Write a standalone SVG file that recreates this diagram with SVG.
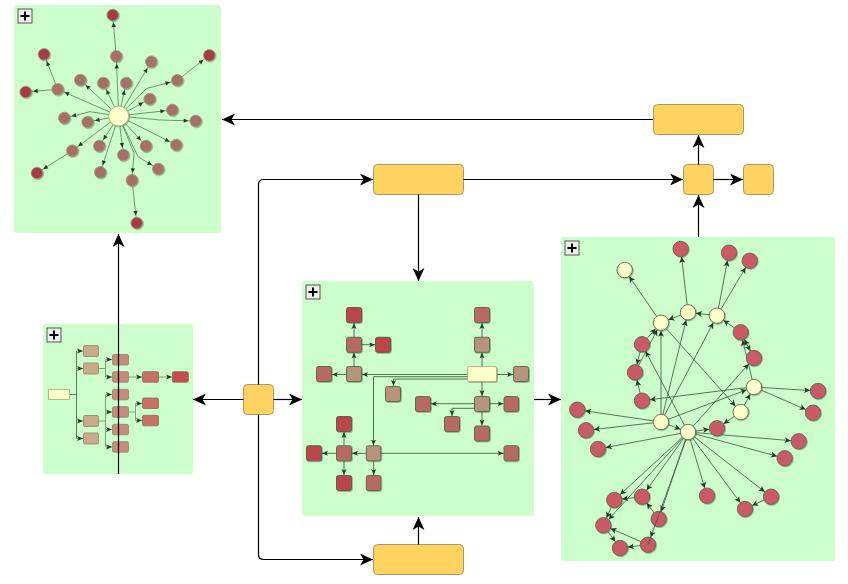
<svg xmlns="http://www.w3.org/2000/svg" width="848" height="584" viewBox="0 0 848 584">
<style>
.p{fill:#ccffcc}
.o{fill:#ffd35f;stroke:#a89868;stroke-width:1}
.b{fill:none;stroke:#000;stroke-width:1.2;marker-end:url(#big)}
.e{fill:none;stroke:#3f6b3f;stroke-width:.9}
#edges1{stroke:#5f8f62;stroke-width:.9}
#edges2{stroke:#6f9a70;stroke-width:.9}
#edges3{stroke:#4a754a;stroke-width:1}
#edges4,#connector-over{stroke:#3f5f40;stroke-width:.85}
.a1{marker-end:url(#m1)}
.a2{marker-end:url(#m2)}
.a4{marker-end:url(#m4)}
.y{fill:#ffffcc;stroke:#b0b078;stroke-width:.9}
.n1{fill:#a87065;stroke:#9a9a78;stroke-width:.8}
.d1{fill:#a83a42;stroke:#9a9a78;stroke-width:.8}
.t2{fill:#cca98b;stroke:#8f9068;stroke-width:.9}
.m2{fill:#c98a78;stroke:#8f9068;stroke-width:.9}
.r2{fill:#c96f66;stroke:#7d7d58;stroke-width:.9}
.x2{fill:#c84a4e;stroke:#7d7d58;stroke-width:.9}
.t3{fill:#b8937c;stroke:#5f6b4a;stroke-width:1}
.m3{fill:#b86a62;stroke:#5f6b4a;stroke-width:1}
.x3{fill:#bb4449;stroke:#5f5f48;stroke-width:1}
.r4{fill:#ca5a64;stroke:#66664f;stroke-width:.9}
.y4{fill:#ffffcc;stroke:#66664f;stroke-width:.9}
.btn{fill:#eeeeee;stroke:#555;stroke-width:1}
.pl{fill:none;stroke:#000;stroke-width:2}
#nodes1,#nodes3,#nodes4{filter:url(#sh)}
</style>
<defs>
<filter id="sh" x="-5%" y="-5%" width="110%" height="110%"><feDropShadow dx="0.8" dy="0.8" stdDeviation="0.4" flood-color="#334433" flood-opacity="0.45"/></filter>
<marker id="big" markerUnits="userSpaceOnUse" markerWidth="14" markerHeight="12" viewBox="0 0 14 12" refX="13" refY="6" orient="auto"><path d="M0 0L13 6L0 12L3.500 6Z" fill="#000"/></marker>
<marker id="m1" markerUnits="userSpaceOnUse" markerWidth="30" markerHeight="8" viewBox="0 0 30 8" refX="12" refY="4" orient="auto" overflow="visible"><path d="M0 1.800L4.500 4L0 6.200Z" fill="#1f3a1f"/></marker>
<marker id="m2" markerUnits="userSpaceOnUse" markerWidth="8" markerHeight="8" viewBox="0 0 8 8" refX="6" refY="4" orient="auto"><path d="M0 1.500L6 4L0 6.500L1.500 4Z" fill="#1f3a1f"/></marker>
<marker id="m4" markerUnits="userSpaceOnUse" markerWidth="30" markerHeight="8" viewBox="0 0 30 8" refX="14" refY="4" orient="auto" overflow="visible"><path d="M0 1L6 4L0 7L1.500 4Z" fill="#1f3a1f"/></marker>
</defs>

<g id="panel1"><rect class="p" x="14" y="5" width="207" height="228" rx="3"/></g>
<g id="panel2"><rect class="p" x="43" y="324" width="150" height="150" rx="3"/></g>
<g id="panel3"><rect class="p" x="302" y="281" width="232" height="235" rx="3"/></g>
<g id="panel4"><rect class="p" x="561" y="237" width="274" height="324" rx="3"/></g>
<g id="toggle1"><rect class="btn" x="18" y="9" width="14" height="14"/><path class="pl" d="M20.500 16H29.500M25 11.500V20.500"/></g>
<g id="toggle2"><rect class="btn" x="47" y="328" width="14" height="14"/><path class="pl" d="M49.500 335H58.500M54 330.500V339.500"/></g>
<g id="toggle3"><rect class="btn" x="306" y="285" width="14" height="14"/><path class="pl" d="M308.500 292H317.500M313 287.500V296.500"/></g>
<g id="toggle4"><rect class="btn" x="565" y="241" width="14" height="14"/><path class="pl" d="M567.500 248H576.500M572 243.500V252.500"/></g>

<g id="connectors-inner">
<g id="edges1" class="e">
<path class="a1" d="M118.700 116L116.300 56.300"/><path class="a1" d="M116.300 56.300L112.700 15"/><path class="a1" d="M118.700 116L151.300 61.700"/><path class="a1" d="M118.700 116L146.500 88.500L177.300 80.300"/><path class="a1" d="M177.300 80.300L209.300 55.300"/><path class="a1" d="M118.700 116L80.300 80"/><path class="a1" d="M118.700 116L103.300 83"/><path class="a1" d="M118.700 116L126.300 83"/><path class="a1" d="M118.700 116L57.700 89.300"/><path class="a1" d="M57.700 89.300L44 54.300"/><path class="a1" d="M57.700 89.300L25.700 92"/><path class="a1" d="M118.700 116L149.700 99"/><path class="a1" d="M118.700 116L172.300 110"/><path class="a1" d="M118.700 116L90 111.700L64.300 118"/><path class="a1" d="M118.700 116L87.700 122"/><path class="a1" d="M118.700 116L160 120L195.700 121"/><path class="a1" d="M118.700 116L176.300 145"/><path class="a1" d="M118.700 116L99.300 146"/><path class="a1" d="M118.700 116L146 146"/><path class="a1" d="M118.700 116L72.300 150.700"/><path class="a1" d="M72.300 150.700L37 173"/><path class="a1" d="M118.700 116L123.300 155"/><path class="a1" d="M118.700 116L138 156.700L158.300 169"/><path class="a1" d="M118.700 116L100.300 172.300"/><path class="a1" d="M118.700 116L134 153L132 180.300"/><path class="a1" d="M132 180.300L136.700 223"/>
</g>
<g id="edges2" class="e">
<path d="M69 394.500H76.500M76.500 351V438.500" stroke="#4a754a"/><path class="a2" d="M76.500 351H83"/><path class="a2" d="M76.500 368.500H83"/><path class="a2" d="M76.500 421H83"/><path class="a2" d="M76.500 438.500H83"/>
<path d="M99 368.500H105.500M105.500 360V377"/><path class="a2" d="M105.500 359.500H112"/><path class="a2" d="M105.500 377H112"/>
<path d="M99 421H105.500M105.500 394.500V447"/><path class="a2" d="M105.500 394.500H112"/><path class="a2" d="M105.500 412H112"/><path class="a2" d="M105.500 429.500H112"/><path class="a2" d="M105.500 447H112"/>
<path class="a2" d="M129 377H142"/><path class="a2" d="M159 377H172"/>
<path d="M129 412H135.500M135.500 403.500V420.500"/><path class="a2" d="M135.500 403.500H142"/><path class="a2" d="M135.500 420.500H142"/>
</g>
<g id="edges3" class="e">
<path class="a2" d="M354 337V323"/><path class="a2" d="M354 366.500V352.500"/><path class="a2" d="M362 344.700H375"/><path class="a2" d="M482 337V323"/><path class="a2" d="M482 366.500V352.500"/><path class="a2" d="M497 374.500H513"/><path class="a2" d="M346 374.500H332"/>
<path class="a2" d="M467 374.500H362"/><path class="a2" d="M467 376.700H373.500V445.500"/><path class="a2" d="M467 379H393.500V386"/>
<path class="a2" d="M482 381.500V396"/><path class="a2" d="M474 403.700H431"/><path class="a2" d="M474 408.300H452V416"/><path class="a2" d="M490 403.700H503.500"/><path class="a2" d="M482 412V425.500"/>
<path class="a2" d="M344 445.500V432"/><path class="a2" d="M336 453.300H322"/><path class="a2" d="M344 461V475"/><path class="a2" d="M366 453.300H352"/><path class="a2" d="M381 453.300H503.500"/><path class="a2" d="M373.700 461V475"/>
</g>
<g id="edges4" class="e">
<path class="a4" d="M661 322.700L624.700 270"/><path class="a4" d="M688 312.300L661 322.700"/><path class="a4" d="M717 315.700L688 312.300"/><path class="a4" d="M688 312.300L680.700 249"/><path class="a4" d="M717 315.700L729 252.700"/><path class="a4" d="M717 315.700L749.700 260.700"/><path class="a4" d="M740.700 332.300L717 315.700"/><path class="a4" d="M740.700 332.300L754 358"/><path class="a4" d="M754 358L740.700 332.300"/><path class="a4" d="M754 387L740.700 332.300"/>
<path class="a4" d="M642 344.300L661 322.700"/><path class="a4" d="M642 344.300L635 372.300"/><path class="a4" d="M635 372.300L661 322.700"/><path class="a4" d="M642 400.700L635 372.300"/><path class="a4" d="M688 432L642 344.300"/>
<path class="a4" d="M661 422L661 322.700"/><path class="a4" d="M661 422L688 312.300"/><path class="a4" d="M661 422L717 315.700"/><path class="a4" d="M661 322.700L740.700 412"/><path class="a4" d="M740.700 412L754 387"/><path class="a4" d="M754 387L735 389L642 400.700"/><path class="a4" d="M754 387L818 391"/><path class="a4" d="M754 387L813 412.700"/><path class="a4" d="M661 422L754 387"/><path class="a4" d="M688 432L754 358"/>
<path class="a4" d="M661 422L577.300 409.700"/><path class="a4" d="M661 422L586 430.300"/><path class="a4" d="M661 422L688 432"/><path class="a4" d="M688 432L717 428.300"/><path class="a4" d="M740.700 412L717 428.300"/><path class="a4" d="M688 432L798.700 441.300"/><path class="a4" d="M688 432L784.700 458.300"/><path class="a4" d="M688 432L598 449"/><path class="a4" d="M688 432L707 495.700"/><path class="a4" d="M688 432L745 509"/><path class="a4" d="M688 432L771 496.700"/><path class="a4" d="M688 432L642 496.700"/><path class="a4" d="M688 432L614.300 500"/><path class="a4" d="M688 432L603.300 525.300"/><path class="a4" d="M688 432L658.700 519"/>
<path class="a4" d="M771 496.700L745 509"/><path class="a4" d="M642 496.700L614.300 500"/><path class="a4" d="M658.700 519L642 496.700"/><path class="a4" d="M614.300 500L603.300 525.300"/><path class="a4" d="M603.300 525.300L620 548"/><path class="a4" d="M648 544.700L620 548"/><path class="a4" d="M648 544.700L603.300 525.300"/>
</g>
</g>

<g id="nodes1">
<g id="a0"><circle class="y" cx="118.700" cy="116" r="10"/></g>
<g id="a1"><circle class="d1" cx="112.700" cy="15" r="5.800"/></g><g id="a2"><circle class="n1" cx="116.300" cy="56.300" r="5.800"/></g><g id="a3"><circle class="d1" cx="44" cy="54.300" r="5.800"/></g><g id="a4"><circle class="n1" cx="151.300" cy="61.700" r="5.800"/></g><g id="a5"><circle class="d1" cx="209.300" cy="55.300" r="5.800"/></g><g id="a6"><circle class="n1" cx="177.300" cy="80.300" r="5.800"/></g><g id="a7"><circle class="n1" cx="80.300" cy="80" r="5.800"/></g><g id="a8"><circle class="n1" cx="103.300" cy="83" r="5.800"/></g><g id="a9"><circle class="n1" cx="126.300" cy="83" r="5.800"/></g><g id="a10"><circle class="n1" cx="57.700" cy="89.300" r="5.800"/></g><g id="a11"><circle class="d1" cx="25.700" cy="92" r="5.800"/></g><g id="a12"><circle class="n1" cx="149.700" cy="99" r="5.800"/></g><g id="a13"><circle class="n1" cx="172.300" cy="110" r="5.800"/></g><g id="a14"><circle class="n1" cx="64.300" cy="118" r="5.800"/></g><g id="a15"><circle class="n1" cx="87.700" cy="122" r="5.800"/></g><g id="a16"><circle class="n1" cx="195.700" cy="121" r="5.800"/></g><g id="a17"><circle class="n1" cx="176.300" cy="145" r="5.800"/></g><g id="a18"><circle class="n1" cx="99.300" cy="146" r="5.800"/></g><g id="a19"><circle class="n1" cx="146" cy="146" r="5.800"/></g><g id="a20"><circle class="n1" cx="72.300" cy="150.700" r="5.800"/></g><g id="a21"><circle class="n1" cx="123.300" cy="155" r="5.800"/></g><g id="a22"><circle class="n1" cx="158.300" cy="169" r="5.800"/></g><g id="a23"><circle class="d1" cx="37" cy="173" r="5.800"/></g><g id="a24"><circle class="n1" cx="100.300" cy="172.300" r="5.800"/></g><g id="a25"><circle class="n1" cx="132" cy="180.300" r="5.800"/></g><g id="a26"><circle class="d1" cx="136.700" cy="223" r="5.800"/></g>
</g>

<g id="nodes2">
<g id="b0"><rect class="y" x="48.500" y="389.500" width="21" height="10"/></g>
<g id="b1"><rect class="t2" x="83.500" y="345.500" width="15" height="11" rx="1.500"/></g><g id="b2"><rect class="t2" x="83.500" y="363" width="15" height="11" rx="1.500"/></g><g id="b3"><rect class="t2" x="83.500" y="415.500" width="15" height="11" rx="1.500"/></g><g id="b4"><rect class="t2" x="83.500" y="433" width="15" height="11" rx="1.500"/></g>
<g id="b5"><rect class="m2" x="112.500" y="354.500" width="16" height="10.500" rx="1.500"/></g><g id="b6"><rect class="m2" x="112.500" y="371.700" width="16" height="10.500" rx="1.500"/></g><g id="b7"><rect class="m2" x="112.500" y="389.300" width="16" height="10.500" rx="1.500"/></g><g id="b8"><rect class="m2" x="112.500" y="406.700" width="16" height="10.500" rx="1.500"/></g><g id="b9"><rect class="m2" x="112.500" y="424.300" width="16" height="10.500" rx="1.500"/></g><g id="b10"><rect class="m2" x="112.500" y="441.700" width="16" height="10.500" rx="1.500"/></g>
<g id="b11"><rect class="r2" x="142.500" y="371.700" width="16" height="10.500" rx="1.500"/></g><g id="b12"><rect class="r2" x="142.500" y="398" width="16" height="10.500" rx="1.500"/></g><g id="b13"><rect class="r2" x="142.500" y="415.300" width="16" height="10.500" rx="1.500"/></g><g id="b14"><rect class="x2" x="172.300" y="371.700" width="16" height="10.500" rx="1.500"/></g>
</g>

<g id="nodes3">
<g id="c0"><rect class="y" x="467.500" y="366.500" width="29" height="15" rx="1.500"/></g>
<g id="c1"><rect class="x3" x="346.500" y="307.500" width="15" height="15" rx="2"/></g><g id="c2"><rect class="m3" x="474.500" y="307.500" width="15" height="15" rx="2"/></g><g id="c3"><rect class="m3" x="346.500" y="337.300" width="15" height="15" rx="2"/></g><g id="c4"><rect class="x3" x="375.500" y="337.300" width="15" height="15" rx="2"/></g><g id="c5"><rect class="t3" x="474.500" y="337.300" width="15" height="15" rx="2"/></g><g id="c6"><rect class="m3" x="316.500" y="366.500" width="15" height="15" rx="2"/></g><g id="c7"><rect class="t3" x="346.500" y="366.500" width="15" height="15" rx="2"/></g><g id="c8"><rect class="t3" x="513.500" y="366.500" width="15" height="15" rx="2"/></g><g id="c9"><rect class="t3" x="385.500" y="386.500" width="15" height="15" rx="2"/></g><g id="c10"><rect class="m3" x="415.500" y="396.500" width="15" height="15" rx="2"/></g><g id="c11"><rect class="t3" x="474.500" y="396.500" width="15" height="15" rx="2"/></g><g id="c12"><rect class="m3" x="504" y="396.500" width="14.500" height="15" rx="2"/></g><g id="c13"><rect class="m3" x="444.500" y="416.500" width="15" height="15" rx="2"/></g><g id="c14"><rect class="m3" x="474.500" y="426" width="15" height="15" rx="2"/></g><g id="c15"><rect class="x3" x="336.500" y="416.500" width="15" height="15" rx="2"/></g><g id="c16"><rect class="x3" x="306.500" y="445.800" width="15" height="15" rx="2"/></g><g id="c17"><rect class="m3" x="336.500" y="445.800" width="15" height="15" rx="2"/></g><g id="c18"><rect class="t3" x="366.300" y="445.800" width="14.500" height="15" rx="2"/></g><g id="c19"><rect class="m3" x="504" y="445.800" width="14.500" height="15" rx="2"/></g><g id="c20"><rect class="x3" x="336.500" y="475.500" width="15" height="15" rx="2"/></g><g id="c21"><rect class="m3" x="366.300" y="475.500" width="14.500" height="15" rx="2"/></g>
</g>

<g id="nodes4">
<g id="d0"><circle class="y4" cx="624.700" cy="270" r="7.700"/></g><g id="d1"><circle class="y4" cx="661" cy="322.700" r="7.700"/></g><g id="d2"><circle class="y4" cx="688" cy="312.300" r="7.700"/></g><g id="d3"><circle class="y4" cx="717" cy="315.700" r="7.700"/></g><g id="d4"><circle class="y4" cx="754" cy="387" r="7.700"/></g><g id="d5"><circle class="y4" cx="740.700" cy="412" r="7.700"/></g><g id="d6"><circle class="y4" cx="661" cy="422" r="7.700"/></g><g id="d7"><circle class="y4" cx="688" cy="432" r="7.700"/></g>
<g id="d8"><circle class="r4" cx="680.700" cy="249" r="7.700"/></g><g id="d9"><circle class="r4" cx="729" cy="252.700" r="7.700"/></g><g id="d10"><circle class="r4" cx="749.700" cy="260.700" r="7.700"/></g><g id="d11"><circle class="r4" cx="740.700" cy="332.300" r="7.700"/></g><g id="d12"><circle class="r4" cx="642" cy="344.300" r="7.700"/></g><g id="d13"><circle class="r4" cx="754" cy="358" r="7.700"/></g><g id="d14"><circle class="r4" cx="635" cy="372.300" r="7.700"/></g><g id="d15"><circle class="r4" cx="642" cy="400.700" r="7.700"/></g><g id="d16"><circle class="r4" cx="818" cy="391" r="7.700"/></g><g id="d17"><circle class="r4" cx="577.300" cy="409.700" r="7.700"/></g><g id="d18"><circle class="r4" cx="813" cy="412.700" r="7.700"/></g><g id="d19"><circle class="r4" cx="586" cy="430.300" r="7.700"/></g><g id="d20"><circle class="r4" cx="717" cy="428.300" r="7.700"/></g><g id="d21"><circle class="r4" cx="798.700" cy="441.300" r="7.700"/></g><g id="d22"><circle class="r4" cx="598" cy="449" r="7.700"/></g><g id="d23"><circle class="r4" cx="784.700" cy="458.300" r="7.700"/></g><g id="d24"><circle class="r4" cx="707" cy="495.700" r="7.700"/></g><g id="d25"><circle class="r4" cx="642" cy="496.700" r="7.700"/></g><g id="d26"><circle class="r4" cx="771" cy="496.700" r="7.700"/></g><g id="d27"><circle class="r4" cx="614.300" cy="500" r="7.700"/></g><g id="d28"><circle class="r4" cx="745" cy="509" r="7.700"/></g><g id="d29"><circle class="r4" cx="658.700" cy="519" r="7.700"/></g><g id="d30"><circle class="r4" cx="603.300" cy="525.300" r="7.700"/></g><g id="d31"><circle class="r4" cx="648" cy="544.700" r="7.700"/></g><g id="d32"><circle class="r4" cx="620" cy="548" r="7.700"/></g>
</g>
<g id="connector-over" class="e"><path class="a4" d="M686 439.500L648 544.700"/></g>

<g id="nodeA"><rect class="o" x="373.500" y="164.500" width="90" height="30" rx="4"/></g>
<g id="nodeB"><rect class="o" x="653.500" y="104.500" width="90" height="30" rx="4"/></g>
<g id="nodeC"><rect class="o" x="683.500" y="164.500" width="30" height="30" rx="4"/></g>
<g id="nodeD"><rect class="o" x="743.500" y="164.500" width="30" height="30" rx="4"/></g>
<g id="nodeE"><rect class="o" x="243.500" y="384.500" width="30" height="30" rx="4"/></g>
<g id="nodeF"><rect class="o" x="373.500" y="544.500" width="90" height="30" rx="4"/></g>

<g id="connectors">
<path class="b" d="M653 119.500H222"/>
<path class="b" d="M463.500 179.500H683"/>
<path class="b" d="M713.500 179.500H743"/>
<path class="b" d="M698.500 164.500V135"/>
<path class="b" d="M698.500 237V195"/>
<path class="b" d="M418.500 194.500V281"/>
<path class="b" d="M258.500 384.500V184.500Q258.500 179.500 263.500 179.500H373"/>
<path class="b" d="M258.500 414.500V554.500Q258.500 559.500 263.500 559.500H373"/>
<path class="b" d="M243.500 399.500H193"/>
<path class="b" d="M273.500 399.500H302"/>
<path class="b" d="M534 399.500H561"/>
<path class="b" d="M418.500 544.500V517"/>
<path class="b" d="M118.500 474V234"/>
</g>
</svg>
